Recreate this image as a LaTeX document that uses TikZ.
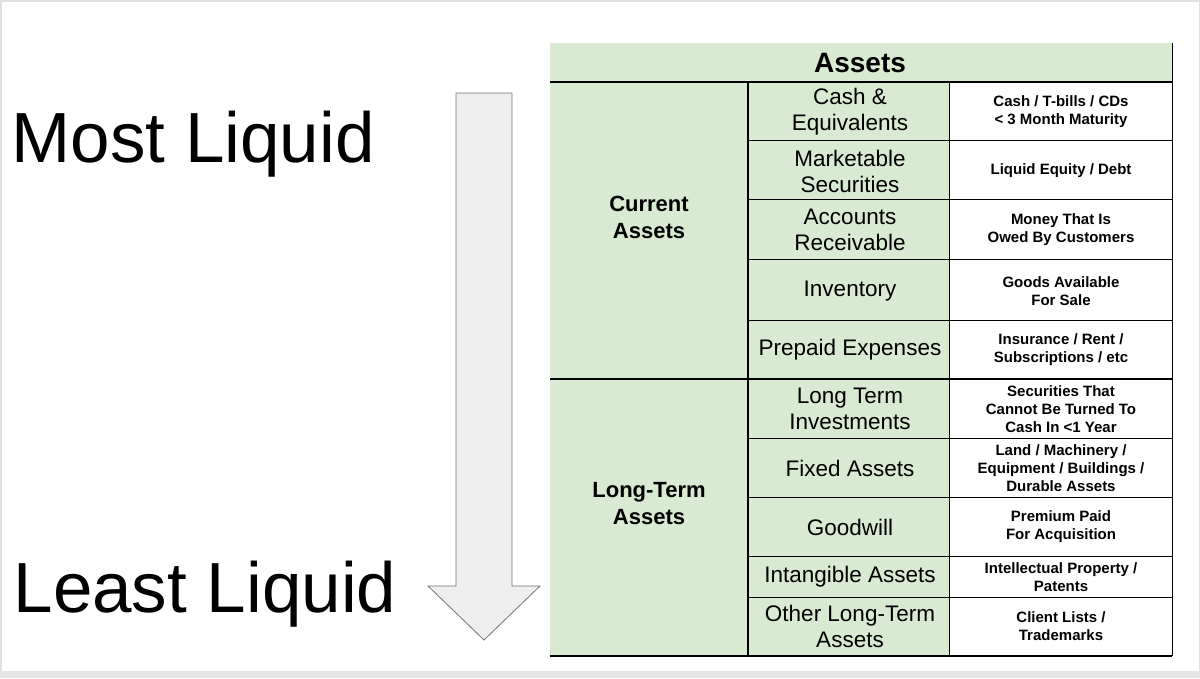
\documentclass[tikz,border=0pt]{standalone}
\usepackage{fontspec}
\setmainfont{Liberation Sans}
\definecolor{tgreen}{HTML}{D9EAD3}
\definecolor{agrey}{HTML}{EEEEEE}
\begin{document}
\begin{tikzpicture}[x=1pt,y=-1pt,
  mid/.style={align=center,font=\fontsize{22.5}{26}\selectfont},
  rt/.style={align=center,font=\bfseries\fontsize{15}{18}\selectfont},
  grp/.style={align=center,font=\bfseries\fontsize{22}{27}\selectfont},
  big/.style={anchor=west,font=\fontsize{71}{78}\selectfont}]
\useasboundingbox (0,0) rectangle (1200,678);
\draw[black!12,line width=1.5] (0.75,0.75) rectangle (1199.25,677.25);
\fill[black!10] (0,671) rectangle (1200,678);
% arrow
\draw[black!55,fill=agrey,line width=0.8] (456,93) -- (512,93) -- (512,586) -- (540,586) -- (484,640) -- (428,586) -- (456,586) -- cycle;
\node[big] (ml) at (8,144) {Most Liquid};
\node[big] (ll) at (10,594) {Least Liquid};
% table
\fill[tgreen] (550,43) rectangle (1172,656);
\fill[white] (949,82) rectangle (1172,656);
\foreach \y in {140,199,259,320,438,497,556,597}
  \draw[line width=1] (748,\y) -- (1172,\y);
\draw[line width=1] (949,82) -- (949,656);
\draw[line width=1] (1172,43) -- (1172,656);
\draw[line width=2] (748,82) -- (748,656);
\draw[line width=2] (550,82) -- (1172,82);
\draw[line width=2] (550,379) -- (1172,379);
\draw[line width=2] (550,656) -- (1172,656);
\node[grp,font=\bfseries\fontsize{28}{32}\selectfont] (h) at (860,63) {Assets};
\node[grp] (ca) at (649,217) {Current\\Assets};
\node[grp] (la) at (649,504) {Long-Term\\Assets};
\foreach \t/\b/\y [count=\i] in {
 {Cash \&\\Equivalents}/{Cash / T-bills / CDs\\< 3 Month Maturity}/112,
 {Marketable\\Securities}/{Liquid Equity / Debt}/171,
 {Accounts\\Receivable}/{Money That Is\\Owed By Customers}/230,
 {Inventory}/{Goods Available\\For Sale}/291,
 {Prepaid Expenses}/{Insurance / Rent /\\Subscriptions / etc}/350,
 {Long Term\\Investments}/{Securities That\\Cannot Be Turned To\\Cash In <1 Year}/409,
 {Fixed Assets}/{Land / Machinery /\\Equipment / Buildings /\\Durable Assets}/468,
 {Goodwill}/{Premium Paid\\For Acquisition}/527,
 {Intangible Assets}/{Intellectual Property /\\Patents}/577,
 {Other Long-Term\\Assets}/{Client Lists /\\Trademarks}/626}{
  \node[mid] (m\i) at (850,\y) {\t};
  \node[rt] (r\i) at (1061,\y) {\b};
}
\end{tikzpicture}
\end{document}
